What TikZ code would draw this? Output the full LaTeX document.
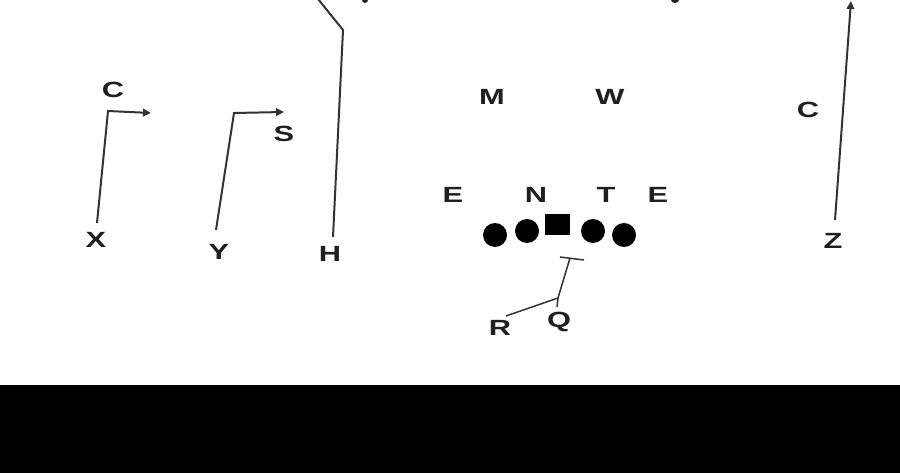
\documentclass[tikz,border=0pt]{standalone}
\usepackage{fontspec}
\setmainfont{Liberation Sans}
\usetikzlibrary{arrows.meta}
\begin{document}
\begin{tikzpicture}[x=1pt,y=-1pt,
  lbl/.style={font=\fontsize{22}{22}\selectfont\bfseries, text=black!88, inner sep=0pt, xscale=1.4},
  route/.style={draw=black!80, line width=2pt},
  arr/.style={route, -{Triangle[length=8pt,width=7.5pt]}},
  dot/.style={circle, fill=black, minimum size=24pt, inner sep=0pt},
  ctr/.style={rectangle, fill=black, minimum width=25pt, minimum height=21pt, inner sep=0pt}]
\useasboundingbox (0,0) rectangle (900,473);
\fill[white] (0,0) rectangle (900,385);
\fill[black] (0,385) rectangle (900,473);
\begin{scope}
\clip (0,0) rectangle (900,385);
% labels
\node[lbl] (cl) at (113,90) {C};
\node[lbl] (x) at (96,240) {X};
\node[lbl] (y) at (219,252) {Y};
\node[lbl] (s) at (284,134) {S};
\node[lbl] (h) at (330,254) {H};
\node[lbl] (m) at (492,97) {M};
\node[lbl] (w) at (610,97) {W};
\node[lbl] (cr) at (808,110) {C};
\node[lbl] (z) at (833,241) {Z};
\node[lbl] (e1) at (453,195) {E};
\node[lbl] (n) at (536,195) {N};
\node[lbl] (t) at (606,195) {T};
\node[lbl] (e2) at (658,195) {E};
\node[lbl] (r) at (500,328) {R};
\node[lbl] (q) at (559,322) {Q};
% line
\node[dot] (o1) at (495,235) {};
\node[dot] (o2) at (527,231) {};
\node[ctr] (ce) at (557,225) {};
\node[dot] (o4) at (593,231) {};
\node[dot] (o5) at (624,235) {};
% route points
\coordinate (xs) at (97,223);
\coordinate (xb) at (108,111);
\coordinate (xe) at (151,113);
\coordinate (ys) at (216,230);
\coordinate (yb) at (234,113);
\coordinate (ye) at (284,112);
\coordinate (hs) at (333,237);
\coordinate (hb) at (343,30);
\coordinate (he) at (314,-6);
\coordinate (zs) at (835,220);
\coordinate (ze) at (851,1);
\draw[arr] (xs) -- (xb) -- (xe);
\draw[arr] (ys) -- (yb) -- (ye);
\draw[route] (hs) -- (hb) -- (he);
\draw[arr] (zs) -- (ze);
% QB
\coordinate (tb1) at (560,257);
\coordinate (tb2) at (584,260);
\coordinate (ts) at (570,258);
\coordinate (k) at (558,298);
\coordinate (qe) at (557,307);
\coordinate (re) at (506,316);
\draw[draw=black!80, line width=1.5pt] (tb1) -- (tb2);
\draw[draw=black!80, line width=1.5pt] (ts) -- (k) -- (qe);
\draw[draw=black!80, line width=1.5pt] (k) -- (re);
% fragments of cut-off labels
\fill[black!85] (365,0) ellipse (3 and 3);
\fill[black!85] (675,0) ellipse (4 and 3);
\end{scope}
\end{tikzpicture}
\end{document}
